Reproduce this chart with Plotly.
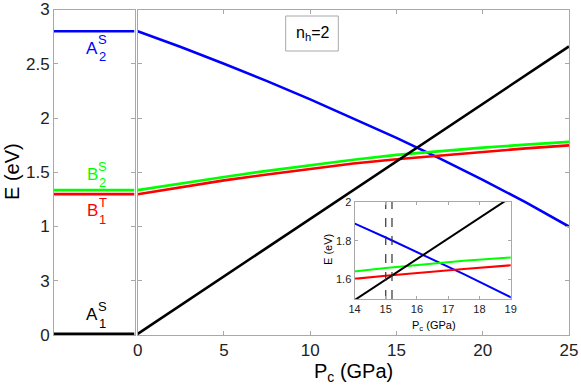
import plotly.graph_objects as go

# ---------------- data ----------------
P = [0, 2.5, 5, 7.5, 10, 12.5, 15, 17.5, 20, 22.5, 25]
E_A2S = [2.80, 2.655, 2.50, 2.34, 2.172, 1.998, 1.817, 1.628, 1.43, 1.222, 1.0]
E_B2S = [1.335, 1.398, 1.457, 1.513, 1.566, 1.615, 1.66, 1.697, 1.727, 1.755, 1.78]
E_B1T = [1.298, 1.364, 1.425, 1.48, 1.532, 1.58, 1.62, 1.655, 1.688, 1.72, 1.748]
P_A1S = [0, 25]
E_A1S = [0.01, 2.66]

levels = [2.80, 1.335, 1.298, 0.01]          # left panel (P = 0 levels)
level_names = [("A", "S", "2"), ("B", "S", "2"), ("B", "T", "1"), ("A", "S", "1")]
colors = ["#0000ff", "#00ff00", "#ff0000", "#000000"]

dashed_P = [15.0, 15.2]

y_ticks = [0, 0.5, 1, 1.5, 2, 2.5, 3]
y_ticktext = ["0", "3", "1", "1.5", "2", "2.5", "3"]
x_ticks = [0, 5, 10, 15, 20, 25]
inset_xticks = [14, 15, 16, 17, 18, 19]
inset_yticks = [1.6, 1.8, 2]
inset_yticktext = ["1.6", "1.8", "2"]

# ---------------- figure ----------------
W, H = 581, 391
def px(x): return x / W
def py(y): return 1 - y / H

FONT = "Liberation Sans, Arial, sans-serif"
GRAY = "#a8a8a8"

fig = go.Figure()

series = [E_A2S, E_B2S, E_B1T]
for lv, c in zip(levels, colors):
    fig.add_trace(go.Scatter(x=[0, 1], y=[lv, lv], mode="lines",
                             line=dict(color=c, width=2.6), xaxis="x", yaxis="y",
                             showlegend=False, hoverinfo="skip"))
for s, c in zip(series, colors[:3]):
    fig.add_trace(go.Scatter(x=P, y=s, mode="lines", line=dict(color=c, width=2.6),
                             xaxis="x2", yaxis="y2", showlegend=False))
fig.add_trace(go.Scatter(x=P_A1S, y=E_A1S, mode="lines", line=dict(color="#000000", width=2.6),
                         xaxis="x2", yaxis="y2", showlegend=False))
for s, c in zip(series, colors[:3]):
    fig.add_trace(go.Scatter(x=P, y=s, mode="lines", line=dict(color=c, width=2),
                             xaxis="x3", yaxis="y3", showlegend=False))
fig.add_trace(go.Scatter(x=P_A1S, y=E_A1S, mode="lines", line=dict(color="#000000", width=2),
                         xaxis="x3", yaxis="y3", showlegend=False))
for d in dashed_P:
    fig.add_trace(go.Scatter(x=[d, d], y=[1.5, 2], mode="lines",
                             line=dict(color="#333333", width=1.2, dash="dash"),
                             xaxis="x3", yaxis="y3", showlegend=False))

ydom = [py(335), py(9.5)]
common = dict(showgrid=False, zeroline=False, showline=True, linecolor=GRAY, linewidth=1,
              ticks="inside", tickcolor=GRAY, ticklen=4, mirror="ticks",
              ticklabeloverflow="allow", automargin=False,
              tickfont=dict(family=FONT, size=17, color="#222222"))
small = {**common, "tickfont": dict(family=FONT, size=11, color="#222222"), "ticklen": 3}

fig.update_layout(
    width=W, height=H, autosize=False,
    margin=dict(l=0, r=0, t=0, b=0, pad=0, autoexpand=False),
    paper_bgcolor="white", plot_bgcolor="white",
    xaxis=dict(domain=[px(54), px(134.5)], range=[0, 1], showticklabels=False,
               showgrid=False, zeroline=False, showline=True, linecolor=GRAY,
               mirror=True, ticks="", anchor="y", automargin=False),
    yaxis=dict(domain=ydom, range=[0, 3], tickvals=y_ticks, ticktext=y_ticktext,
               anchor="x", **common),
    xaxis2=dict(domain=[px(137.7), px(569)], range=[0, 25], tickvals=x_ticks,
                anchor="y2", **common),
    yaxis2=dict(domain=ydom, range=[0, 3], tickvals=y_ticks, showticklabels=False,
                anchor="x2", **common),
    xaxis3=dict(domain=[px(354.5), px(510.7)], range=[14, 19], tickvals=inset_xticks,
                anchor="y3", **small),
    yaxis3=dict(domain=[py(299), py(202)], range=[1.5, 2], tickvals=inset_yticks,
                ticktext=inset_yticktext, anchor="x3", **small),
)

ann = []
def A(x, y, text, size, color="#000000", **kw):
    ann.append(dict(x=px(x), y=py(y), xref="paper", yref="paper", text=text,
                    showarrow=False, font=dict(family=FONT, size=size, color=color), **kw))

label_pos = [(92, 48), (92, 174), (92, 210), (92, 314)]
for (L, sup, sub), c, (x, y) in zip(level_names, colors, label_pos):
    A(x, y, L, 17, c, xanchor="center", yanchor="middle")
    A(x + 10.5, y - 8, sup, 13, c, xanchor="center", yanchor="middle")
    A(x + 10.5, y + 9, sub, 13, c, xanchor="center", yanchor="middle")

A(353.5, 372, "P<sub>c</sub> (GPa)", 20, xanchor="center", yanchor="middle")
A(12, 172, "E (eV)", 20, xanchor="center", yanchor="middle", textangle=-90)
A(434, 326, "P<sub>c</sub> (GPa)", 11, xanchor="center", yanchor="middle")
A(328, 250, "E (eV)", 11, xanchor="center", yanchor="middle", textangle=-90)

A(312, 33, "n<sub>h</sub>=2", 16, xanchor="center", yanchor="middle")
fig.update_layout(annotations=ann)
fig.add_shape(type="rect", xref="paper", yref="paper",
              x0=px(285.7), x1=px(338.3), y0=py(51), y1=py(16),
              line=dict(color=GRAY, width=1), fillcolor="rgba(0,0,0,0)")

fig.write_html("out.html", config={"displayModeBar": False, "responsive": False},
               post_script="document.body.style.margin='0';document.body.style.overflow='hidden';")
